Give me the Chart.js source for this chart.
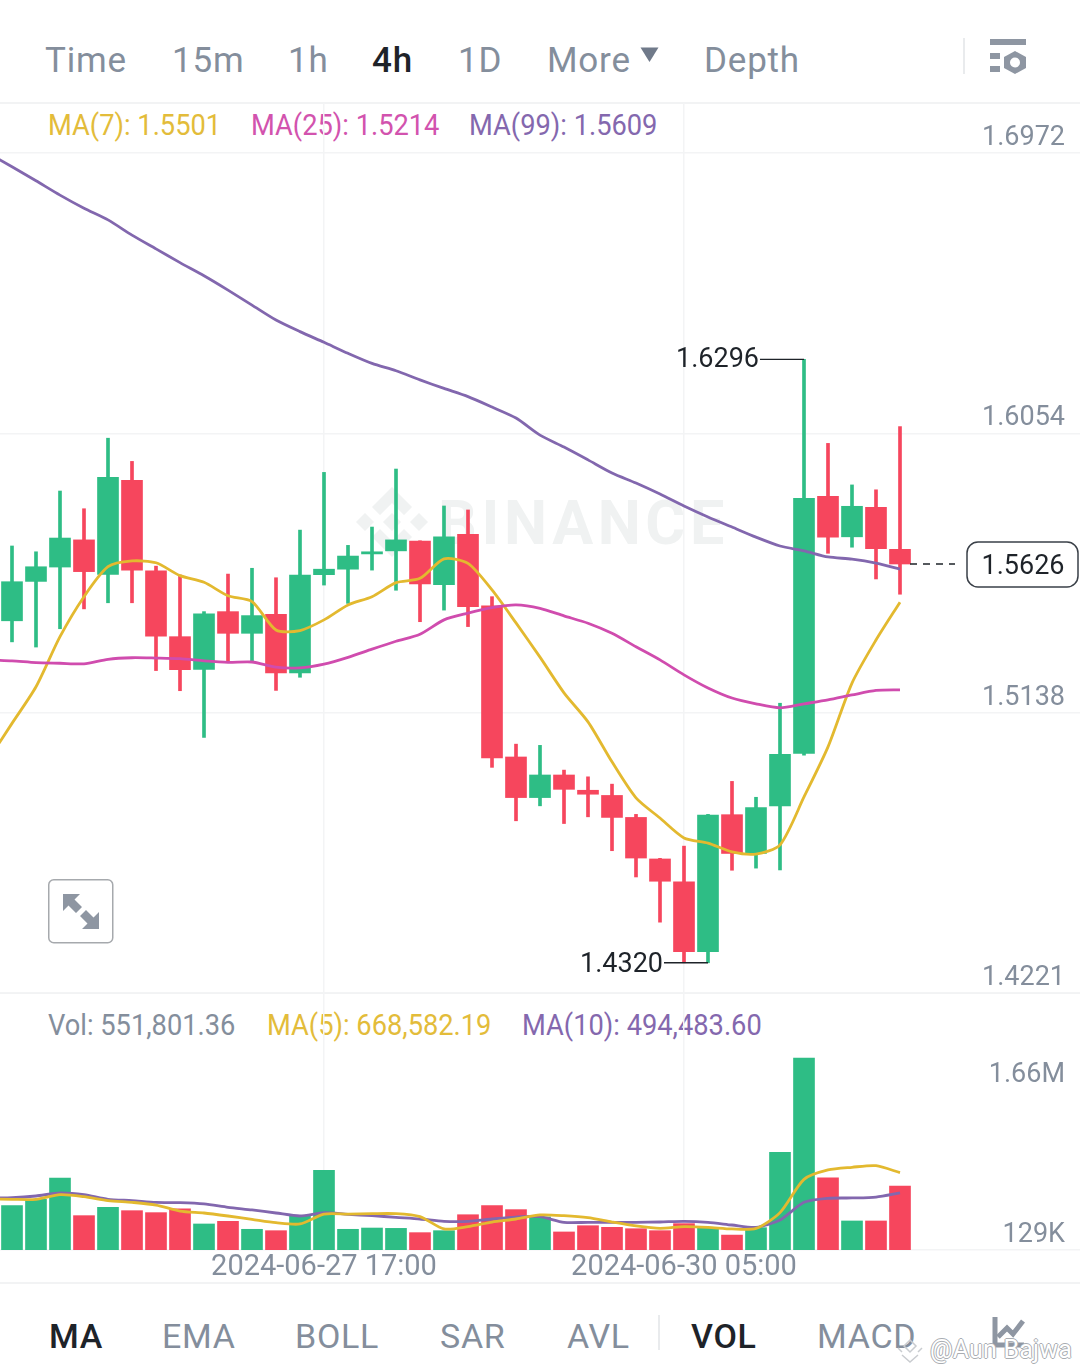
<!DOCTYPE html>
<html><head><meta charset="utf-8">
<script src="https://cdn.jsdelivr.net/npm/chart.js@4"></script>
<style>
html,body{margin:0;padding:0;background:#fff;}
#page{position:relative;width:1080px;height:1372px;overflow:hidden;background:#fff;font-family:Roboto,sans-serif;}
#page canvas{position:absolute;left:0;}
.t{position:absolute;white-space:nowrap;line-height:40px;height:40px;}
.nav{font-size:35px;color:#848E9C;letter-spacing:.8px;top:41px;}
.foot{font-size:34px;color:#848E9C;letter-spacing:.7px;top:1316px;}
.on{color:#1E2329;font-weight:500;}
.leg{font-size:29px;transform:scaleX(.94);transform-origin:left center;}
.hr{position:absolute;left:0;width:1080px;background:#F2F3F4;}
.vr{position:absolute;width:2px;background:#E9EBED;}
svg{position:absolute;overflow:visible;}
</style></head><body><div id="page">

<div class="t nav" style="left:45px">Time</div>
<div class="t nav" style="left:172px">15m</div>
<div class="t nav" style="left:288px">1h</div>
<div class="t nav on" style="left:372px">4h</div>
<div class="t nav" style="left:458px">1D</div>
<div class="t nav" style="left:547px">More</div>
<svg style="left:640px;top:47px" width="19" height="16"><path d="M0.5 0.5H18.5L9.5 15Z" fill="#707A8A"/></svg>
<div class="t nav" style="left:704px">Depth</div>
<div class="vr" style="left:963px;top:38px;height:36px"></div>
<svg style="left:990px;top:38px" width="37" height="38" fill="#8E96A2"><rect x="0" y="1" width="36" height="6"/><rect x="0" y="15" width="10" height="6"/><rect x="0" y="28" width="10" height="6"/><path d="M25 13l11 6v11l-11 6l-11-6v-11z"/><circle cx="25" cy="24.5" r="5" fill="#fff"/></svg>
<div class="hr" style="top:102px;height:2px"></div>

<div class="t leg" style="left:48px;top:105px;color:#E3BC3A">MA(7): 1.5501</div>
<div class="t leg" style="left:251px;top:105px;color:#D253AE">MA(25): 1.5214</div>
<div class="t leg" style="left:469px;top:105px;color:#8468AE">MA(99): 1.5609</div>

<svg style="left:354px;top:484px" width="76" height="76" fill="#F0F2F2"><path d="M38 3L58 23L50 31L38 19L26 31L18 23Z"/><path d="M38 73L58 53L50 45L38 57L26 45L18 53Z"/><path d="M38 29L47 38L38 47L29 38Z"/><path d="M11 29L20 38L11 47L2 38Z"/><path d="M65 29L74 38L65 47L56 38Z"/></svg>
<div class="t" style="left:438px;top:492px;height:62px;line-height:62px;font-size:61px;font-weight:700;color:#F0F2F2;letter-spacing:4.6px">BINANCE</div>

<canvas id="priceChart" width="1080" height="890" style="top:103px"></canvas>
<div class="hr" style="top:993px;height:1px"></div>

<div class="t leg" style="left:48px;top:1005px;color:#848E9C">Vol: 551,801.36</div>
<div class="t leg" style="left:267px;top:1005px;color:#E3BC3A">MA(5): 668,582.19</div>
<div class="t leg" style="left:522px;top:1005px;color:#8468AE">MA(10): 494,483.60</div>

<canvas id="volumeChart" width="1080" height="289" style="top:993px"></canvas>
<div class="hr" style="top:1282px;height:2px"></div>

<svg style="left:48px;top:879px" width="66" height="65"><rect x="0.75" y="0.75" width="64" height="63" rx="5" fill="#fff" stroke="#A6A9AD" stroke-width="1.5"/><g fill="#8E96A2"><path d="M15 15H32L26.5 20.5L34 28L28 34L20.5 26.5L15 32Z"/><path d="M51 50H34L39.5 44.5L32 37L38 31L45.500 38.500L51 33Z"/></g></svg>

<div class="t foot on" style="left:49px">MA</div>
<div class="t foot" style="left:162px">EMA</div>
<div class="t foot" style="left:295px">BOLL</div>
<div class="t foot" style="left:440px">SAR</div>
<div class="t foot" style="left:567px">AVL</div>
<div class="vr" style="left:658px;top:1315px;height:35px"></div>
<div class="t foot on" style="left:691px">VOL</div>
<div class="t foot" style="left:817px">MACD</div>
<svg style="left:992px;top:1317px" width="32" height="32" fill="none" stroke="#8E96A2" stroke-width="5"><path d="M3 0V28H32"/><path d="M6 20L15 11L21 17L31 4"/></svg>
<svg style="left:897px;top:1339px" width="27" height="24" fill="none" stroke="#C9CCD0" stroke-width="1.5"><path d="M13 1L19 7L13 13L7 7Z"/><path d="M1 9L5 13M25 9L21 13M5 16L13 23L21 16"/></svg>
<div class="t" style="left:930px;top:1330px;font-size:25px;color:#fff;letter-spacing:.2px;text-shadow:-1px 0 #A9ADB2,1px 0 #A9ADB2,0 -1px #A9ADB2,0 1px #A9ADB2">@Aun Bajwa</div>

</div>
<script>
// Category times; the first entry sits just off the left edge and carries only the moving averages
const categories = [
"2024-06-25 09:00","2024-06-25 13:00","2024-06-25 17:00","2024-06-25 21:00",
"2024-06-26 01:00","2024-06-26 05:00","2024-06-26 09:00","2024-06-26 13:00","2024-06-26 17:00","2024-06-26 21:00",
"2024-06-27 01:00","2024-06-27 05:00","2024-06-27 09:00","2024-06-27 13:00","2024-06-27 17:00","2024-06-27 21:00",
"2024-06-28 01:00","2024-06-28 05:00","2024-06-28 09:00","2024-06-28 13:00","2024-06-28 17:00","2024-06-28 21:00",
"2024-06-29 01:00","2024-06-29 05:00","2024-06-29 09:00","2024-06-29 13:00","2024-06-29 17:00","2024-06-29 21:00",
"2024-06-30 01:00","2024-06-30 05:00","2024-06-30 09:00","2024-06-30 13:00","2024-06-30 17:00","2024-06-30 21:00",
"2024-07-01 01:00","2024-07-01 05:00","2024-07-01 09:00","2024-07-01 13:00","2024-07-01 17:00","2024-07-01 21:00",
"2024-07-02 01:00","2024-07-02 05:00","2024-07-02 09:00","2024-07-02 13:00","2024-07-02 17:00","2024-07-02 21:00"];
const dateTicks = ["2024-06-27 17:00","2024-06-30 05:00"];
const priceTicks = [1.4221,1.5138,1.6054,1.6972];
const volTickHigh = [1660000];
const volTickLow = [129000];
const lastPrice = 1.5626;

const opens = [1.5440,1.5569,1.5616,1.5705,1.5592,1.5900,1.5604,1.5388,1.5281,1.5470,1.5399,1.5461,1.5269,1.5591,1.5609,1.5659,1.5669,1.5701,1.5558,1.5723,1.5489,1.4994,1.4861,1.4935,1.4885,1.4868,1.4796,1.4660,1.4585,1.4356,1.4805,1.4678,1.4834,1.5006,1.5848,1.5715,1.5812,1.5674];
const closes = [1.5568,1.5617,1.5711,1.5601,1.5910,1.5606,1.5390,1.5280,1.5463,1.5399,1.5457,1.5269,1.5590,1.5609,1.5652,1.5666,1.5705,1.5561,1.5715,1.5486,1.4991,1.4861,1.4935,1.4888,1.4872,1.4796,1.4663,1.4587,1.4356,1.4804,1.4678,1.4828,1.5003,1.5841,1.5714,1.5815,1.5676,1.5626];
const highs = [1.5685,1.5666,1.5865,1.5807,1.6038,1.5962,1.5619,1.5590,1.5470,1.5593,1.5612,1.5581,1.5737,1.5926,1.5687,1.5747,1.5937,1.5702,1.5816,1.5803,1.5519,1.5036,1.5032,1.4951,1.4929,1.4905,1.4806,1.4662,1.4702,1.4806,1.4914,1.4862,1.5170,1.6296,1.6021,1.5885,1.5869,1.6076];
const lows = [1.5371,1.5354,1.5414,1.5479,1.5499,1.5499,1.5277,1.5211,1.5058,1.5306,1.5306,1.5212,1.5255,1.5557,1.5497,1.5606,1.5540,1.5437,1.5475,1.5421,1.4960,1.4785,1.4834,1.4776,1.4798,1.4687,1.4601,1.4453,1.4320,1.4320,1.4623,1.4630,1.4624,1.5000,1.5661,1.5681,1.5577,1.5527];

// Moving averages, first value is the off-screen category
const ma7 = [1.4984,1.5104,1.5224,1.5388,1.5519,1.5617,1.5636,1.5630,1.5588,1.5566,1.5522,1.5503,1.5410,1.5408,1.5443,1.5492,1.5519,1.5565,1.5579,1.5643,1.5628,1.5541,1.5433,1.5321,1.5204,1.5109,1.4978,1.4860,1.4794,1.4729,1.4712,1.4683,1.4676,1.4706,1.4863,1.5027,1.5236,1.5377,1.5501];
const ma25 = [1.5312,1.5309,1.5303,1.5301,1.5299,1.5314,1.5319,1.5318,1.5316,1.5309,1.5304,1.5305,1.5288,1.5286,1.5298,1.5320,1.5347,1.5373,1.5396,1.5443,1.5465,1.5483,1.5492,1.5481,1.5456,1.5432,1.5399,1.5355,1.5312,1.5263,1.5220,1.5187,1.5168,1.5155,1.5168,1.5181,1.5197,1.5212,1.5214];
const ma99 = [1.6972,1.6927,1.6881,1.6834,1.6791,1.6753,1.6703,1.6658,1.6613,1.6570,1.6523,1.6474,1.6425,1.6387,1.6352,1.6316,1.6283,1.6259,1.6229,1.6201,1.6174,1.6140,1.6104,1.6048,1.6009,1.5967,1.5924,1.5891,1.5855,1.5816,1.5780,1.5747,1.5714,1.5685,1.5669,1.5649,1.5642,1.5629,1.5609];

const volumes = [383000,438000,622000,297000,369000,340000,323000,357000,225000,248000,179000,167000,294000,689000,179000,190000,187000,150000,167000,305000,383000,349000,286000,156000,210000,196000,184000,167000,228000,193000,129000,193000,845000,1660000,625000,251000,251000,551801];
const volMa5 = [441000,438000,438000,478000,461000,427000,412000,389000,337000,320000,294000,265000,236000,225000,311000,311000,314000,314000,288000,182000,202000,242000,268000,303000,297000,280000,242000,208000,187000,202000,196000,182000,187000,323000,611000,692000,715000,729000,668582];
const volMa10 = [448000,452000,467000,493000,478000,438000,427000,412000,409000,398000,369000,346000,320000,294000,323000,308000,297000,282000,268000,248000,248000,268000,285000,288000,239000,239000,239000,239000,242000,248000,239000,216000,196000,259000,412000,447000,450000,458000,494484];

const UP = '#2EBD85', DOWN = '#F6465D', GRID = '#F3F4F5', GREY = '#848E9C', INK = '#1E2329';
const FONT = 'Roboto, sans-serif';
const MA_A = '#E3B92F', MA_B = '#D04CAE', MA_C = '#8267AE';
const candleColors = opens.map((o,i)=> closes[i] >= o ? UP : DOWN);
const lead = a => [null, ...a];

const noPad = s => { s.paddingTop = s.paddingBottom = s.paddingLeft = s.paddingRight = 0; };
const dateAxis = showLabels => ({
  type:'category', min:categories[1], max:categories[45], offset:true,
  grid:{offset:false, color:GRID, lineWidth:1.5, drawTicks:false},
  border:{display:showLabels, color:GRID, width:1.5},
  afterBuildTicks: s => { s.ticks = s.ticks.filter(t => dateTicks.includes(categories[t.value])); },
  afterFit: s => { s.height = showLabels ? 32 : 0; noPad(s); },
  ticks:{display:showLabels, autoSkip:false, maxRotation:0, minRotation:0, padding:0, color:GREY, font:{family:FONT,size:29}}
});
const valueAxis = (min,max,list,fmt,offset,drawGrid) => ({
  type:'linear', position:'right', min, max,
  afterBuildTicks: s => { s.ticks = list.map(v => ({value:v})); },
  afterFit: s => { s.width = 0; noPad(s); },
  grid:{display:drawGrid, color:GRID, lineWidth:1.5, drawTicks:false},
  border:{display:false},
  ticks:{mirror:true, padding:-15, labelOffset:offset, color:GREY, font:{family:FONT,size:27}, callback:fmt}
});
const lineSet = (data,color) => ({type:'line', data, yAxisID:'y', borderColor:color, borderWidth:2.8, pointRadius:0, tension:0.25, order:0, fill:false, clip:true});

const annotations = {
  id:'annotations',
  afterDatasetsDraw(c){
    const g=c.ctx, x=c.scales.x, y=c.scales.y;
    const hi=Math.max(...highs), lo=Math.min(...lows);
    const hiX=x.getPixelForValue(highs.indexOf(hi)+1), loX=x.getPixelForValue(lows.lastIndexOf(lo)+1);
    const hiY=y.getPixelForValue(hi), loY=y.getPixelForValue(lo);
    const lastX=x.getPixelForValue(opens.length), lastY=y.getPixelForValue(lastPrice);
    g.save();
    g.font='27px '+FONT; g.fillStyle=INK; g.strokeStyle=INK; g.textBaseline='middle'; g.textAlign='right';
    g.lineWidth=1.3;
    g.fillText(hi.toFixed(4),hiX-45,hiY+1);
    g.fillText(lo.toFixed(4),loX-45,loY+2);
    g.beginPath(); g.moveTo(hiX-44,hiY); g.lineTo(hiX,hiY); g.moveTo(loX-44,loY); g.lineTo(loX,loY); g.stroke();
    g.setLineDash([7,6]); g.beginPath(); g.moveTo(lastX+10,lastY); g.lineTo(955,lastY); g.stroke(); g.setLineDash([]);
    g.beginPath(); g.roundRect(967,lastY-22,111,45,11); g.fillStyle='#fff'; g.fill(); g.lineWidth=1.5; g.strokeStyle='#3A4048'; g.stroke();
    g.fillStyle=INK; g.textAlign='center'; g.fillText(lastPrice.toFixed(4),1023,lastY+3);
    g.restore();
  }
};

const layout = {padding:0, autoPadding:false};
new Chart(document.getElementById('priceChart'),{
  type:'bar',
  plugins:[annotations],
  data:{labels:categories,datasets:[
    {label:'Wick',data:lead(lows.map((l,i)=>[l,highs[i]])),backgroundColor:lead(candleColors),barThickness:3,grouped:false,order:2},
    {label:'Body',data:lead(opens.map((o,i)=>[o,closes[i]])),backgroundColor:lead(candleColors),barThickness:21,grouped:false,order:1},
    lineSet(ma99,MA_C),lineSet(ma25,MA_B),lineSet(ma7,MA_A)
  ]},
  options:{responsive:false,animation:false,devicePixelRatio:1,maintainAspectRatio:false,
    layout,plugins:{legend:{display:false},tooltip:{enabled:false}},
    scales:{x:dateAxis(false),y:valueAxis(1.4221,1.71358,priceTicks,v=>v.toFixed(4),-15,true)}}
});

const volFmt = v => v>=1e6 ? (v/1e6).toFixed(2)+'M' : Math.round(v/1e3)+'K';
new Chart(document.getElementById('volumeChart'),{
  type:'bar',
  data:{labels:categories,datasets:[
    {label:'Volume',data:lead(volumes),backgroundColor:lead(candleColors),barThickness:21,grouped:false,order:1},
    lineSet(volMa5,MA_A),lineSet(volMa10,MA_C)
  ]},
  options:{responsive:false,animation:false,devicePixelRatio:1,maintainAspectRatio:false,
    layout,plugins:{legend:{display:false},tooltip:{enabled:false}},
    scales:{x:dateAxis(true),
      y:valueAxis(0,2222000,volTickHigh,volFmt,17,false),
      y2:valueAxis(0,2222000,volTickLow,volFmt,0,false)}}
});
</script></body></html>
